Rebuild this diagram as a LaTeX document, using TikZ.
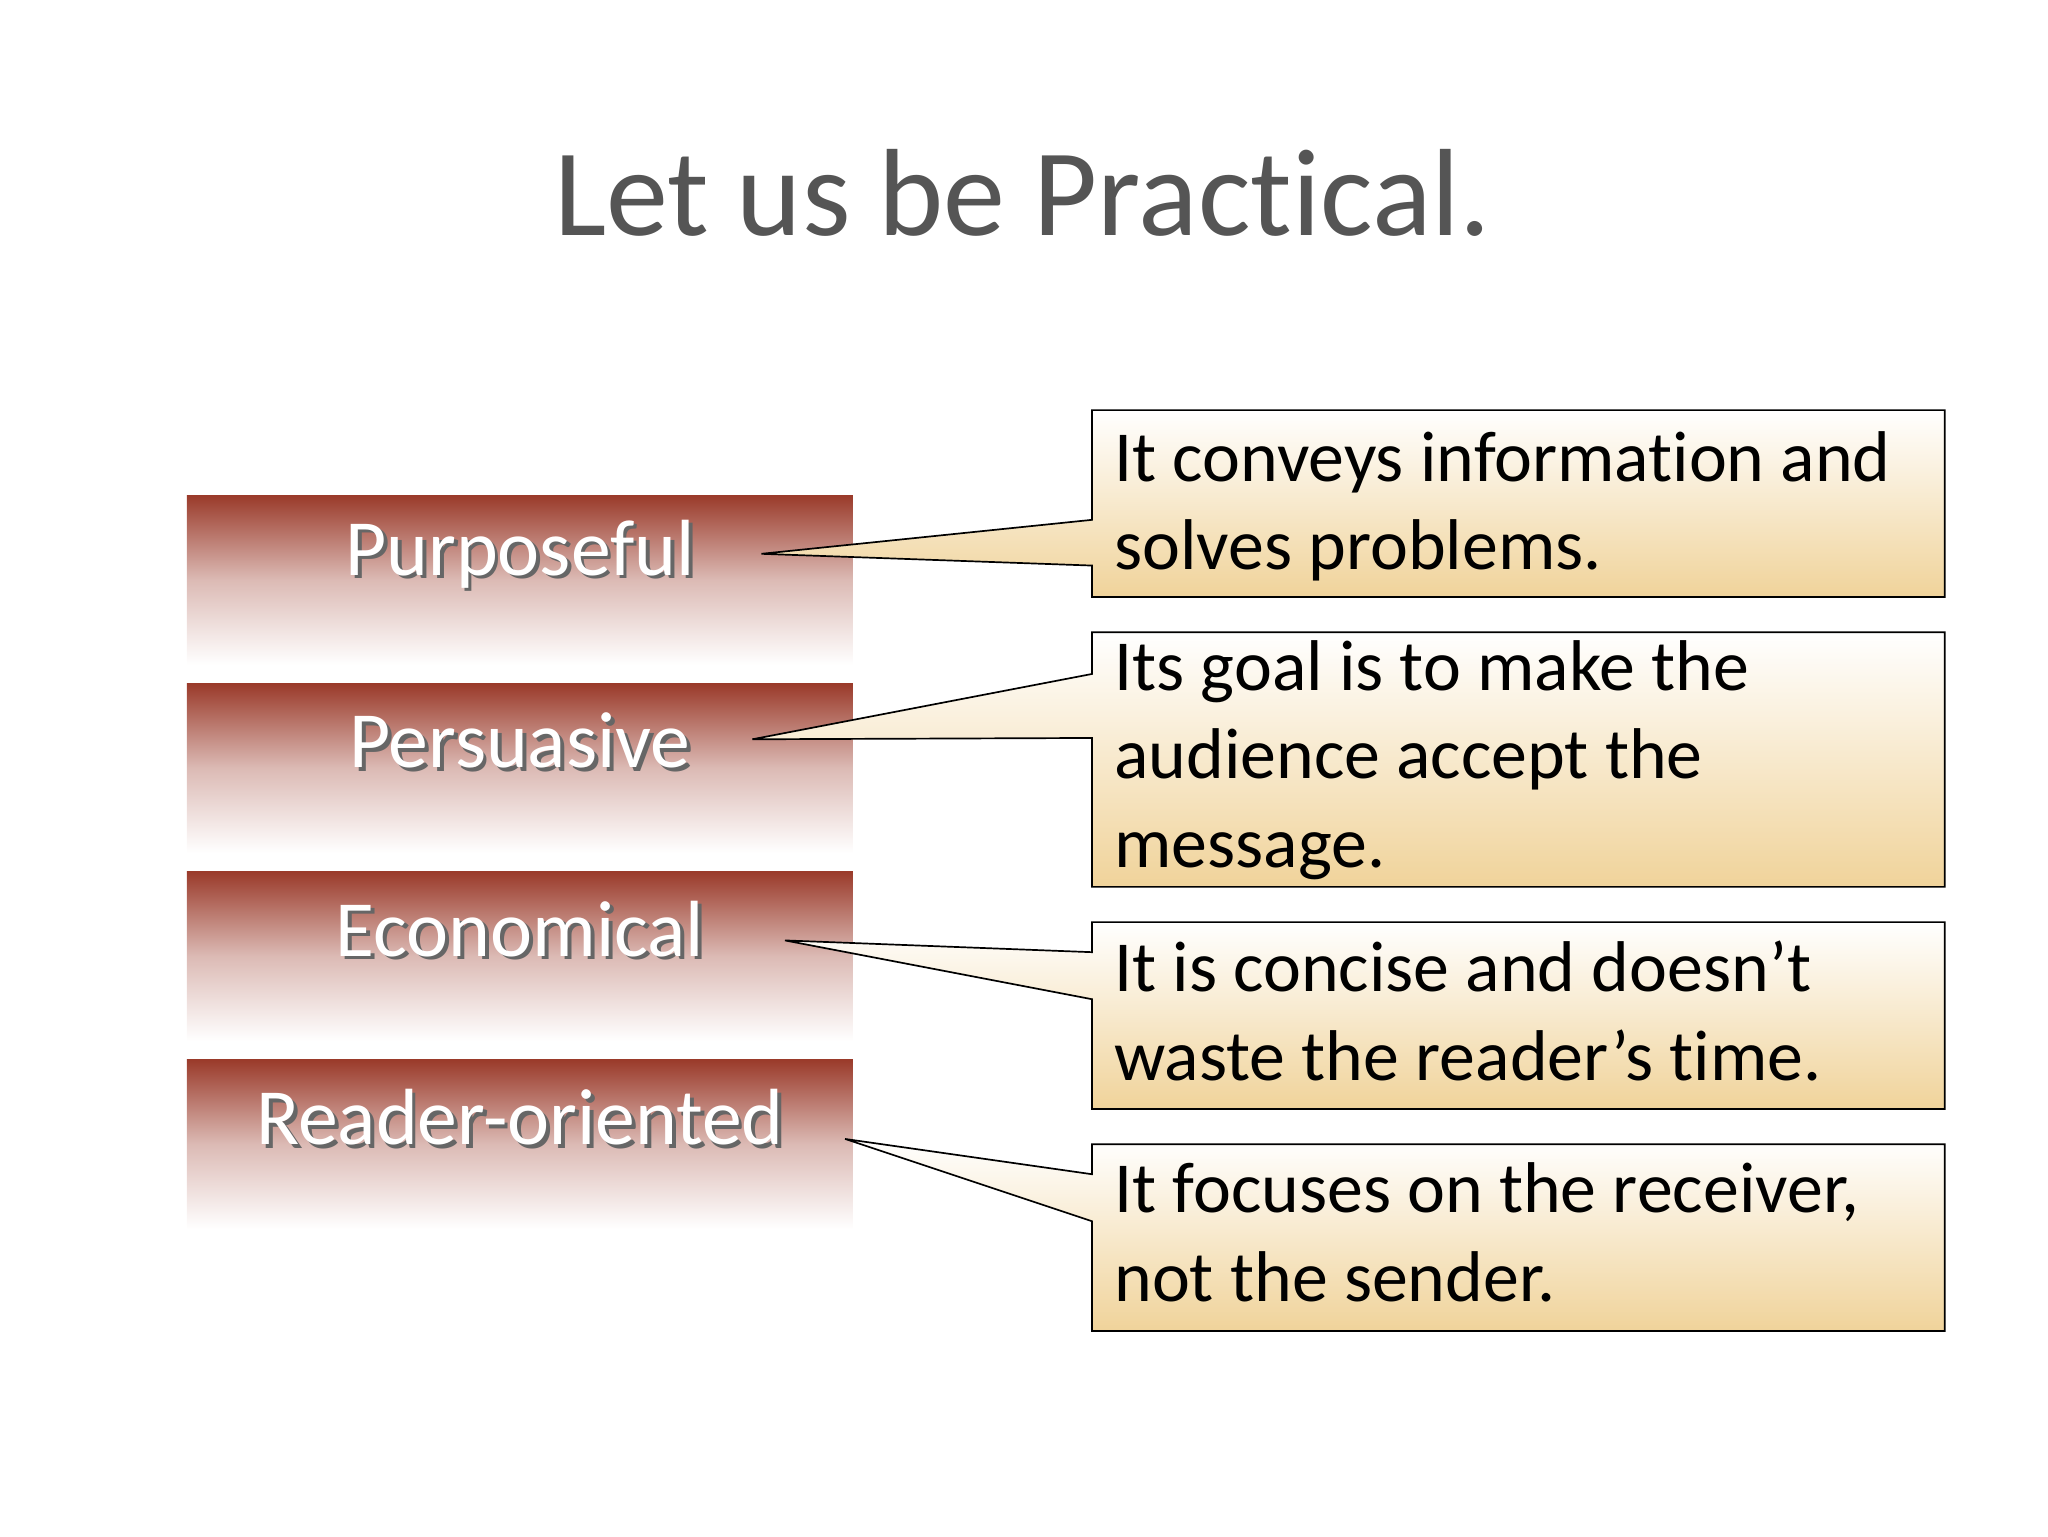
\documentclass[tikz,border=0pt]{standalone}
\usepackage{fontspec}
\setmainfont[RawFeature={-liga;-dlig;-clig}]{Carlito}
\definecolor{dred}{HTML}{9A3A2A}
\definecolor{tan}{HTML}{F0D39A}
\definecolor{ttl}{HTML}{555555}
\tikzset{
 lbox/.style={top color=dred, bottom color=white, middle color=dred!35!white, draw=none},
 ltext/.style={text=white, font=\fontsize{61}{64}\selectfont, inner sep=0},
 lshadow/.style={text=black!60, font=\fontsize{61}{64}\selectfont, inner sep=0},
 rbox/.style={top color=white, bottom color=tan, draw=black, line width=1.3pt},
 rtext/.style={anchor=north west, align=left, font=\fontsize{55}{68}\selectfont, inner sep=0, text=black}
}
\begin{document}
\begin{tikzpicture}[x=1pt,y=-1pt]
\useasboundingbox (0,0) rectangle (1568,1176);
\node[text=ttl, font=\fontsize{95}{100}\selectfont] (title) at (783,148) {Let us be Practical.};
% left boxes
\foreach \t/\y/\n in {379/424/Purposeful,523/567/Persuasive,667/711/Economical,811/855/Reader-oriented}{
 \shade[lbox] (143,\t) rectangle (653,\t+130);
 \node[lshadow] at (401,\y+3) {\n};
 \node[ltext] at (398,\y) {\n};
}
% callouts
\shade[rbox] (836,314) -- (1489,314) -- (1489,457) -- (836,457) -- (836,433) -- (583,424) -- (836,398) -- cycle;
\shade[rbox] (836,484) -- (1489,484) -- (1489,679) -- (836,679) -- (836,565) -- (576,566) -- (836,516) -- cycle;
\shade[rbox] (836,706) -- (1489,706) -- (1489,849) -- (836,849) -- (836,765) -- (601,720) -- (836,729) -- cycle;
\shade[rbox] (836,876) -- (1489,876) -- (1489,1019) -- (836,1019) -- (836,935) -- (647,872) -- (836,899) -- cycle;
\node[rtext] (r1) at (853,330) {It conveys information and\\solves problems.};
\node[rtext] (r2) at (853,490) {Its goal is to make the\\audience accept the\\message.};
\node[rtext] (r3) at (853,720) {It is concise and doesn’t\\waste the reader’s time.};
\node[rtext] (r4) at (853,890) {It focuses on the receiver,\\not the sender.};
\end{tikzpicture}
\end{document}
